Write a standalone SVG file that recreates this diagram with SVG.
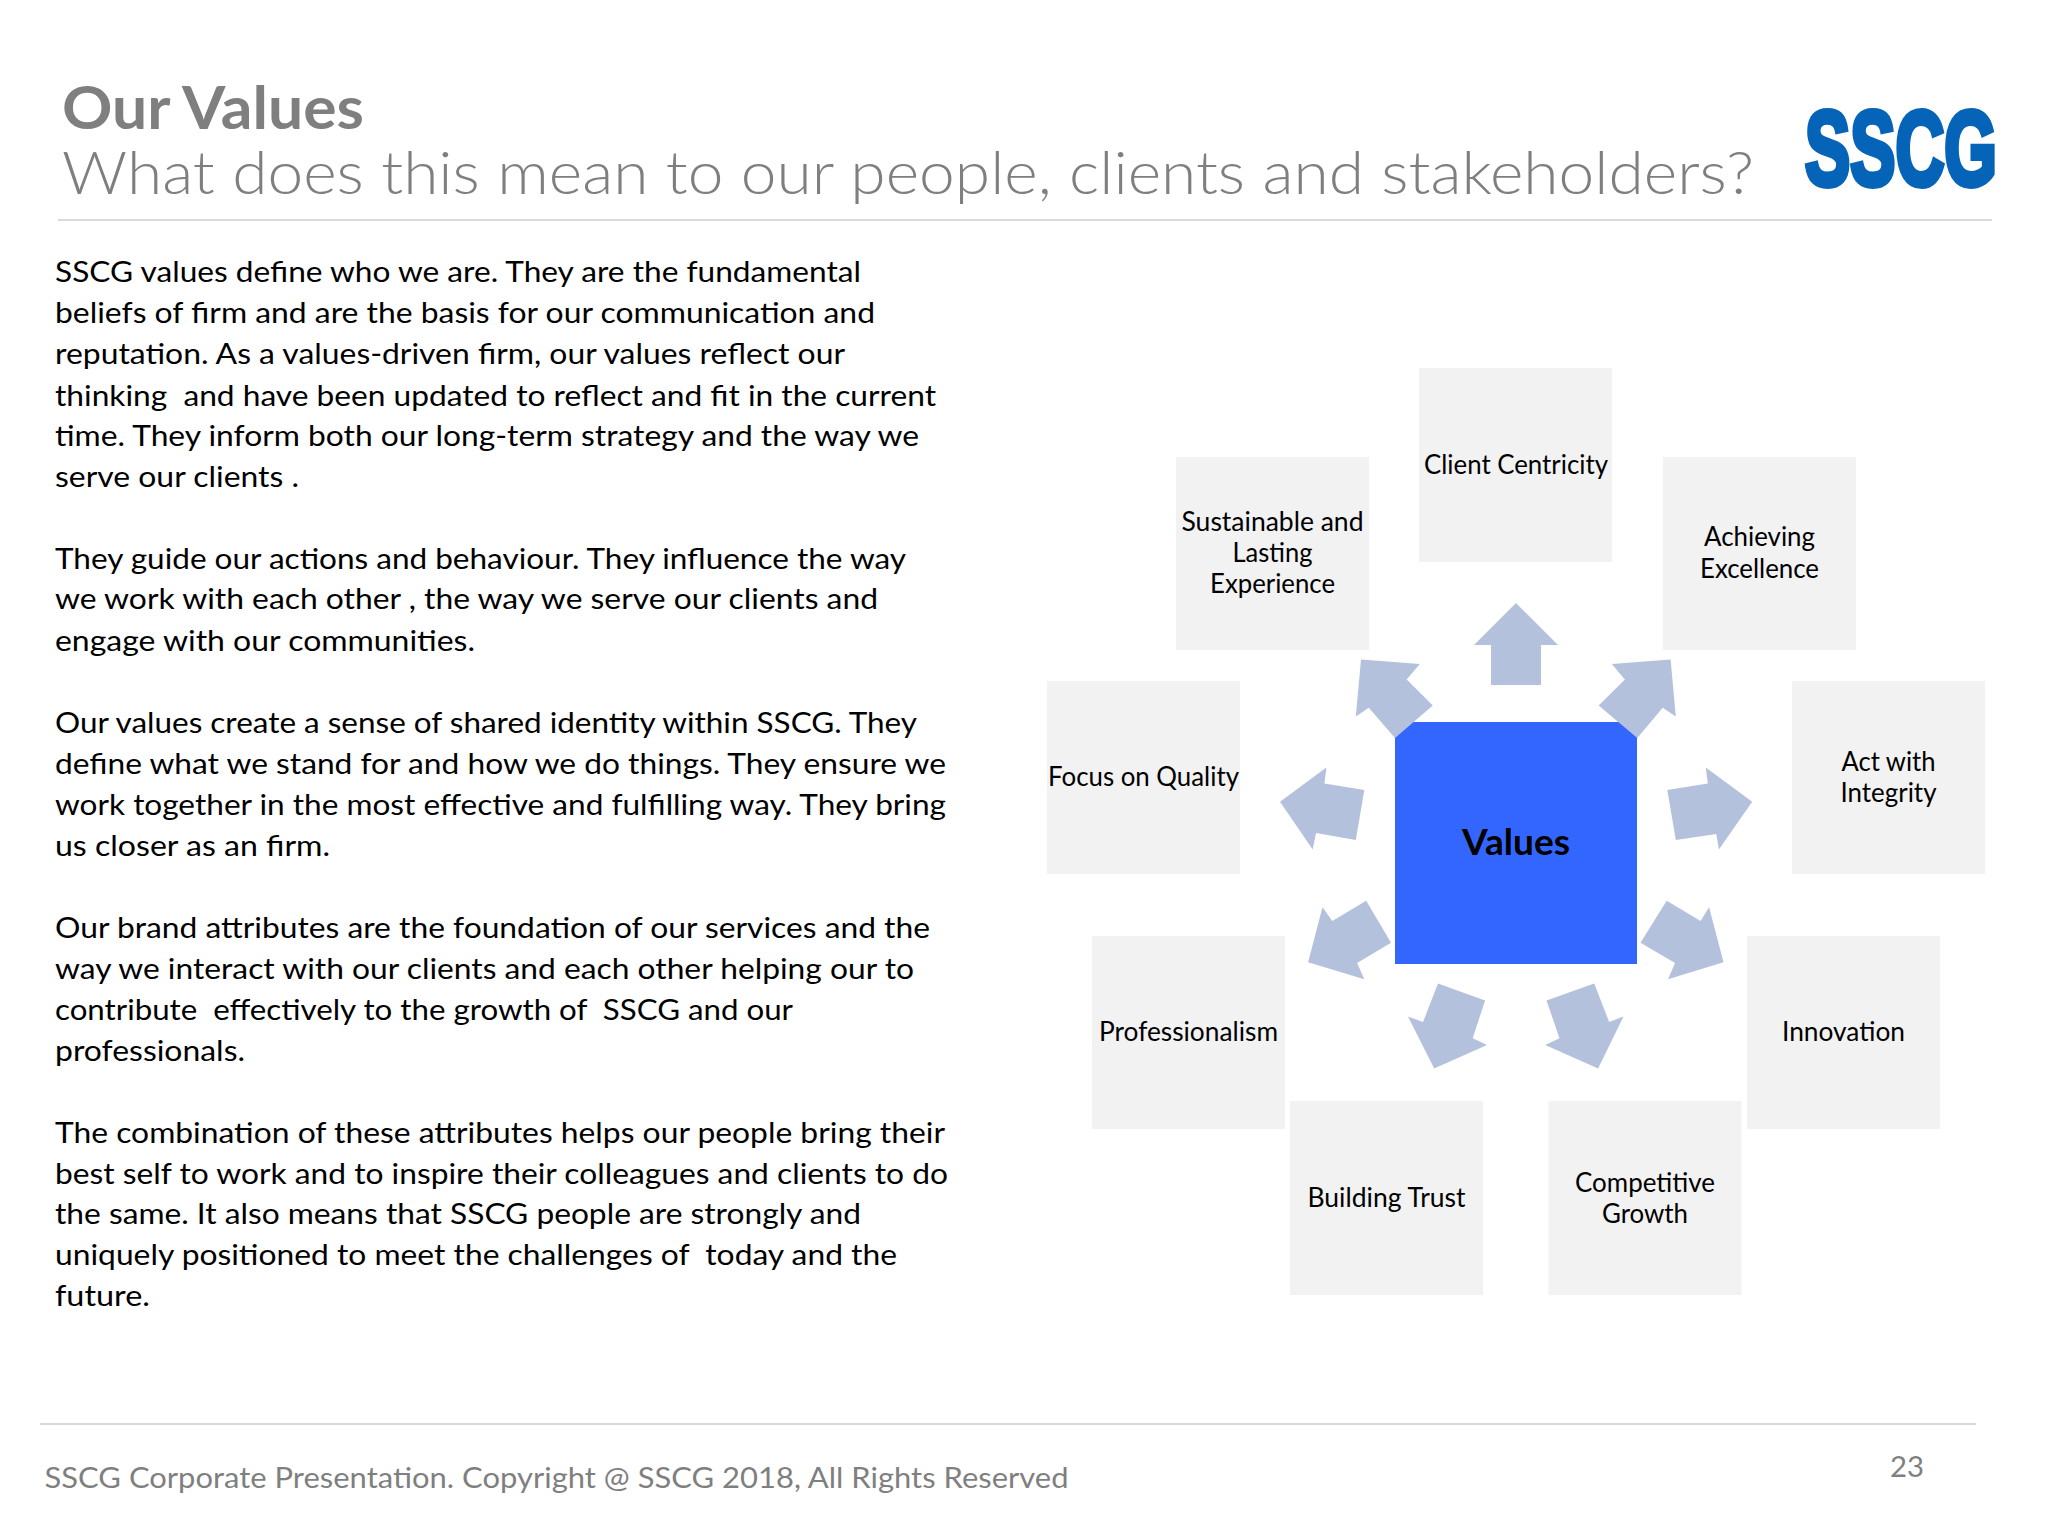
<svg xmlns="http://www.w3.org/2000/svg" width="2048" height="1536" viewBox="0 0 2048 1536">
<style>
.body{font-family:"Lato","Liberation Sans",sans-serif;font-size:29.5px;fill:#000;white-space:pre}
.box{fill:#f2f2f2}
.lbl{font-family:"Lato","Liberation Sans",sans-serif;font-size:26px;fill:#000;text-anchor:middle}
.arrow{fill:#b4c1dc}
.rule{stroke:#d9d9d9;stroke-width:2;fill:none}
.foot{font-family:"Lato","Liberation Sans",sans-serif;fill:#7f7f7f;font-size:29px}
.title{font-family:"Lato","Liberation Sans",sans-serif;fill:#7f7f7f;font-size:60px}
</style>
<rect width="2048" height="1536" fill="#fff"/>
<g id="header">
<text class="title" x="62" y="129" font-weight="700" textLength="302" lengthAdjust="spacingAndGlyphs">Our Values</text>
<text class="title" x="62" y="194" font-weight="300" textLength="1692" lengthAdjust="spacingAndGlyphs">What does this mean to our people, clients and stakeholders?</text>
<text x="1805" y="185" font-family="Liberation Sans, sans-serif" font-weight="700" font-size="106" fill="#0563b8" stroke="#0563b8" stroke-width="6" textLength="192" lengthAdjust="spacingAndGlyphs">SSCG</text>
<line class="rule" x1="58" y1="220" x2="1992" y2="220"/>
</g>
<g id="body-text">
<text class="body" x="55" y="282" textLength="806" lengthAdjust="spacingAndGlyphs">SSCG values define who we are. They are the fundamental</text>
<text class="body" x="55" y="323" textLength="820" lengthAdjust="spacingAndGlyphs">beliefs of firm and are the basis for our communication and</text>
<text class="body" x="55" y="364" textLength="790" lengthAdjust="spacingAndGlyphs">reputation. As a values-driven firm, our values reflect our</text>
<text class="body" x="55" y="406" textLength="881" lengthAdjust="spacingAndGlyphs">thinking  and have been updated to reflect and fit in the current</text>
<text class="body" x="55" y="446" textLength="864" lengthAdjust="spacingAndGlyphs">time. They inform both our long-term strategy and the way we</text>
<text class="body" x="55" y="487" textLength="244" lengthAdjust="spacingAndGlyphs">serve our clients .</text>
<text class="body" x="55" y="569" textLength="851" lengthAdjust="spacingAndGlyphs">They guide our actions and behaviour. They influence the way</text>
<text class="body" x="55" y="609" textLength="823" lengthAdjust="spacingAndGlyphs">we work with each other , the way we serve our clients and</text>
<text class="body" x="55" y="651" textLength="420" lengthAdjust="spacingAndGlyphs">engage with our communities.</text>
<text class="body" x="55" y="733" textLength="862" lengthAdjust="spacingAndGlyphs">Our values create a sense of shared identity within SSCG. They</text>
<text class="body" x="55" y="774" textLength="891" lengthAdjust="spacingAndGlyphs">define what we stand for and how we do things. They ensure we</text>
<text class="body" x="55" y="815" textLength="891" lengthAdjust="spacingAndGlyphs">work together in the most effective and fulfilling way. They bring</text>
<text class="body" x="55" y="856" textLength="275" lengthAdjust="spacingAndGlyphs">us closer as an firm.</text>
<text class="body" x="55" y="938" textLength="875" lengthAdjust="spacingAndGlyphs">Our brand attributes are the foundation of our services and the</text>
<text class="body" x="55" y="979" textLength="859" lengthAdjust="spacingAndGlyphs">way we interact with our clients and each other helping our to</text>
<text class="body" x="55" y="1020" textLength="738" lengthAdjust="spacingAndGlyphs">contribute  effectively to the growth of  SSCG and our</text>
<text class="body" x="55" y="1061" textLength="190" lengthAdjust="spacingAndGlyphs">professionals.</text>
<text class="body" x="55" y="1143" textLength="890" lengthAdjust="spacingAndGlyphs">The combination of these attributes helps our people bring their</text>
<text class="body" x="55" y="1184" textLength="893" lengthAdjust="spacingAndGlyphs">best self to work and to inspire their colleagues and clients to do</text>
<text class="body" x="55" y="1224" textLength="806" lengthAdjust="spacingAndGlyphs">the same. It also means that SSCG people are strongly and</text>
<text class="body" x="55" y="1265" textLength="842" lengthAdjust="spacingAndGlyphs">uniquely positioned to meet the challenges of  today and the</text>
<text class="body" x="55" y="1306" textLength="95" lengthAdjust="spacingAndGlyphs">future.</text>
</g>
<g id="node-client-centricity"><rect class="box" x="1419" y="368" width="193" height="194"/><text class="lbl" x="1516" y="474" textLength="184" lengthAdjust="spacingAndGlyphs">Client Centricity</text></g>
<g id="node-sustainable"><rect class="box" x="1176" y="457" width="193" height="193"/><text class="lbl" x="1272.5" y="531" textLength="182" lengthAdjust="spacingAndGlyphs">Sustainable and</text><text class="lbl" x="1272.5" y="562" textLength="80" lengthAdjust="spacingAndGlyphs">Lasting</text><text class="lbl" x="1272.5" y="593" textLength="125" lengthAdjust="spacingAndGlyphs">Experience</text></g>
<g id="node-achieving"><rect class="box" x="1663" y="457" width="193" height="193"/><text class="lbl" x="1759.5" y="546" textLength="111" lengthAdjust="spacingAndGlyphs">Achieving</text><text class="lbl" x="1759.5" y="578" textLength="119" lengthAdjust="spacingAndGlyphs">Excellence</text></g>
<g id="node-focus"><rect class="box" x="1047" y="681" width="193" height="193"/><text class="lbl" x="1143.5" y="786" textLength="191" lengthAdjust="spacingAndGlyphs">Focus on Quality</text></g>
<g id="node-integrity"><rect class="box" x="1792" y="681" width="193" height="193"/><text class="lbl" x="1888.5" y="771" textLength="94" lengthAdjust="spacingAndGlyphs">Act with</text><text class="lbl" x="1888.5" y="802" textLength="96" lengthAdjust="spacingAndGlyphs">Integrity</text></g>
<g id="node-professionalism"><rect class="box" x="1092" y="936" width="193" height="193"/><text class="lbl" x="1188.5" y="1041" textLength="179" lengthAdjust="spacingAndGlyphs">Professionalism</text></g>
<g id="node-innovation"><rect class="box" x="1747" y="936" width="193" height="193"/><text class="lbl" x="1843.5" y="1041" textLength="123" lengthAdjust="spacingAndGlyphs">Innovation</text></g>
<g id="node-trust"><rect class="box" x="1290" y="1101" width="193" height="194"/><text class="lbl" x="1386.5" y="1207" textLength="158" lengthAdjust="spacingAndGlyphs">Building Trust</text></g>
<g id="node-growth"><rect class="box" x="1548.5" y="1101" width="193" height="194"/><text class="lbl" x="1645" y="1192" textLength="140" lengthAdjust="spacingAndGlyphs">Competitive</text><text class="lbl" x="1645" y="1223" textLength="86" lengthAdjust="spacingAndGlyphs">Growth</text></g>
<g id="node-values"><rect x="1395" y="722" width="242" height="242" fill="#3366ff"/><text x="1516" y="855" font-family="Lato, Liberation Sans, sans-serif" font-weight="700" font-size="36" fill="#000" text-anchor="middle" textLength="108" lengthAdjust="spacingAndGlyphs">Values</text></g>
<g id="connectors">
<polygon class="arrow" points="1516,603 1558,645 1541,645 1541,685 1491,685 1491,645 1474,645"/>
<polygon class="arrow" points="1670.6,659.5 1611.8,663.9 1624.9,679.5 1598.7,705.5 1637.3,738 1662.7,707.7 1675.8,716.4"/>
<polygon class="arrow" points="1361,659.5 1419.8,663.9 1406.7,679.5 1432.8,705.5 1395,738 1368.8,707.7 1355.8,716.4"/>
<polygon class="arrow" points="1705.8,767.5 1752.2,801.8 1718.9,849.5 1716.3,833.9 1675.8,840 1667.3,790 1707.8,783.6"/>
<polygon class="arrow" points="1326.4,767.5 1280,801.8 1312.7,849.5 1316,833 1355.8,840 1364.3,790 1324.4,783.6"/>
<polygon class="arrow" points="1666.7,900.7 1700.6,921 1709.1,907.2 1723.5,962.3 1668,979.2 1675.1,963.1 1640.5,942.7"/>
<polygon class="arrow" points="1366.2,900.7 1332.3,921 1322.5,907.2 1308.1,962.3 1364.3,979.2 1357.1,963.1 1391,942.7"/>
<polygon class="arrow" points="1594.2,983.5 1546.5,1000.4 1559.5,1038.2 1545.2,1045.1 1598.1,1068.5 1623.5,1016.5 1609.2,1022.1"/>
<polygon class="arrow" points="1438,983.5 1485.1,1000.4 1472.7,1038.2 1487,1045.1 1434.2,1068.5 1408,1016.5 1423,1022.1"/>
</g>
<g id="footer">
<line class="rule" x1="40" y1="1424" x2="1976" y2="1424"/>
<text class="foot" x="44.5" y="1488" textLength="1024" lengthAdjust="spacingAndGlyphs">SSCG Corporate Presentation. Copyright @ SSCG 2018, All Rights Reserved</text>
<text class="foot" x="1890" y="1477" textLength="34" lengthAdjust="spacingAndGlyphs">23</text>
</g>
</svg>
